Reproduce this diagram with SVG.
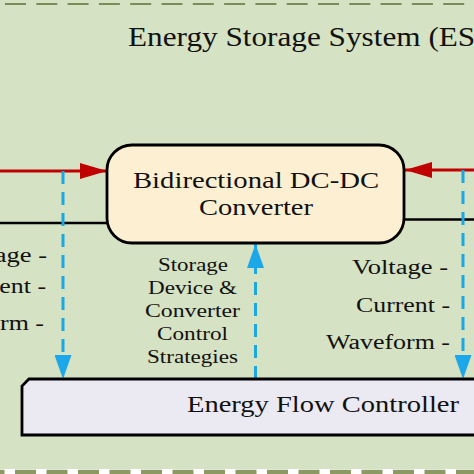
<svg xmlns="http://www.w3.org/2000/svg" width="474" height="474" viewBox="0 0 474 474">
  <style>
    text { font-family: "Liberation Serif", "Times New Roman", serif; fill: #111111; }
    .node { stroke: #000000; stroke-width: 2.8; }
    .red { stroke: #c00000; stroke-width: 3; fill: none; }
    .wire { stroke: #000000; stroke-width: 2.6; fill: none; }
    .sig { stroke: #1ba7e0; stroke-width: 3; fill: none; stroke-dasharray: 13 8; }
    .lbl { font-size: 20px; }
    .mid { font-size: 18px; text-anchor: middle; }
  </style>
  <defs>
    <marker id="redHead" markerUnits="userSpaceOnUse" markerWidth="27" markerHeight="16" refX="27" refY="8" orient="auto">
      <path d="M0,0 L27,8 L0,16 z" fill="#c00000"/>
    </marker>
    <marker id="blueHead" markerUnits="userSpaceOnUse" markerWidth="24" markerHeight="17" refX="24" refY="8.5" orient="auto">
      <path d="M0,0 L24,8.5 L0,17 z" fill="#1ba7e8"/>
    </marker>
  </defs>

  <!-- background and ESS boundary -->
  <rect x="0" y="0" width="474" height="474" fill="#ffffff"/>
  <rect x="0" y="0" width="474" height="469" fill="#d5e2c3"/>
  <line x1="0" y1="4" x2="474" y2="4" stroke="#7b8c5c" stroke-width="2.2" stroke-dasharray="21 10.3" stroke-dashoffset="26.3"/>
  <line x1="0" y1="472" x2="474" y2="472" stroke="#8b9a62" stroke-width="4.5" stroke-dasharray="21 10.5" stroke-dashoffset="16.5"/>

  <g id="title">
    <text x="128" y="46" font-size="27" textLength="375" lengthAdjust="spacingAndGlyphs">Energy Storage System (ESS)</text>
  </g>

  <g id="connectors">
    <line class="red" x1="0" y1="171" x2="107" y2="171" marker-end="url(#redHead)"/>
    <line class="red" x1="474" y1="170" x2="405" y2="170" marker-end="url(#redHead)"/>
    <line class="wire" x1="0" y1="223" x2="108" y2="223"/>
    <line class="wire" x1="402" y1="219.5" x2="474" y2="219.5"/>
    <line class="sig" x1="63" y1="171" x2="63" y2="379" marker-end="url(#blueHead)"/>
    <line class="sig" x1="463" y1="170" x2="463" y2="379" marker-end="url(#blueHead)"/>
    <line class="sig" x1="255.5" y1="379" x2="255.5" y2="244" marker-end="url(#blueHead)"/>
  </g>

  <g id="converter">
    <rect class="node" x="107" y="145" width="297" height="98" rx="25" ry="25" fill="#fdf0d2"/>
    <text x="133" y="188" font-size="24" textLength="246" lengthAdjust="spacingAndGlyphs">Bidirectional DC-DC</text>
    <text x="199" y="215" font-size="24" textLength="114" lengthAdjust="spacingAndGlyphs">Converter</text>
  </g>

  <g id="controller">
    <path class="node" d="M29,379 L480,379 L480,435 L22,435 L22,386 Z" fill="#ebe9f2"/>
    <text x="187" y="412" font-size="24" textLength="272" lengthAdjust="spacingAndGlyphs">Energy Flow Controller</text>
  </g>

  <g id="labels-left">
    <text class="lbl" x="-49" y="262" textLength="96" lengthAdjust="spacingAndGlyphs">Voltage -</text>
    <text class="lbl" x="-48" y="293" textLength="94" lengthAdjust="spacingAndGlyphs">Current -</text>
    <text class="lbl" x="-80" y="330" textLength="124" lengthAdjust="spacingAndGlyphs">Waveform -</text>
  </g>

  <g id="labels-right">
    <text class="lbl" x="352" y="274" textLength="96" lengthAdjust="spacingAndGlyphs">Voltage -</text>
    <text class="lbl" x="356" y="312" textLength="94" lengthAdjust="spacingAndGlyphs">Current -</text>
    <text class="lbl" x="326" y="349" textLength="124" lengthAdjust="spacingAndGlyphs">Waveform -</text>
  </g>

  <g id="labels-middle">
    <text class="mid" x="193" y="271" textLength="70" lengthAdjust="spacingAndGlyphs">Storage</text>
    <text class="mid" x="192.5" y="294" textLength="89" lengthAdjust="spacingAndGlyphs">Device &amp;</text>
    <text class="mid" x="192.5" y="317" textLength="95" lengthAdjust="spacingAndGlyphs">Converter</text>
    <text class="mid" x="192.5" y="340" textLength="71" lengthAdjust="spacingAndGlyphs">Control</text>
    <text class="mid" x="192.5" y="363" textLength="91" lengthAdjust="spacingAndGlyphs">Strategies</text>
  </g>
</svg>
